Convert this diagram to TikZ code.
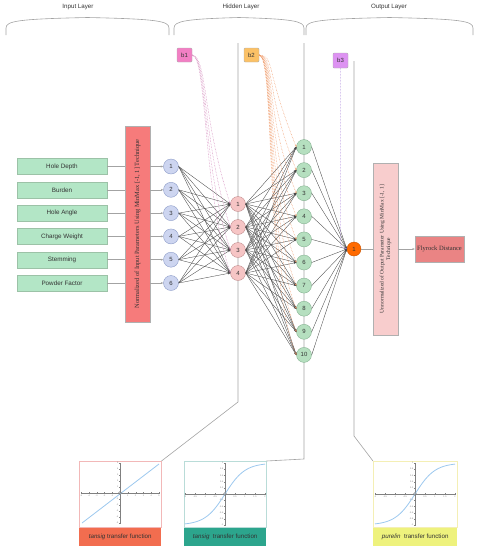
\documentclass[tikz,border=0pt]{standalone}
\usepackage{fontspec}
\setmainfont{Liberation Sans}
\newfontfamily\tms{Liberation Serif}
\usetikzlibrary{arrows.meta}
\definecolor{inboxfill}{HTML}{B3E6C6}
\definecolor{inboxdraw}{HTML}{9CC2A7}
\definecolor{normfill}{HTML}{F67B7B}
\definecolor{boxdraw}{HTML}{B0B0B0}
\definecolor{infill}{HTML}{CDD5F0}
\definecolor{indraw}{HTML}{8C9CC8}
\definecolor{hidfill}{HTML}{F6C5C5}
\definecolor{hiddraw}{HTML}{C08C8C}
\definecolor{outfill}{HTML}{B5DFBF}
\definecolor{outdraw}{HTML}{86B392}
\definecolor{orng}{HTML}{FF6A00}
\definecolor{orngdraw}{HTML}{C85200}
\definecolor{unfill}{HTML}{F8CDCD}
\definecolor{flyfill}{HTML}{EA8484}
\definecolor{bonefill}{HTML}{F27FC4}
\definecolor{btwofill}{HTML}{FBC166}
\definecolor{bthreefill}{HTML}{DD92F2}
\definecolor{bonedot}{HTML}{CF7FB5}
\definecolor{btwodot}{HTML}{EE9460}
\definecolor{bthreedot}{HTML}{A57FDA}
\definecolor{gline}{HTML}{A3A3A3}
\definecolor{edgec}{HTML}{484848}
\definecolor{capone}{HTML}{F26D4F}
\definecolor{captwo}{HTML}{2CA58D}
\definecolor{capthree}{HTML}{EEF27D}
\definecolor{pone}{HTML}{F2B8B8}
\definecolor{ptwo}{HTML}{B9DCD8}
\definecolor{pthree}{HTML}{F4EFB5}
\definecolor{curvec}{HTML}{9CC8EE}
\definecolor{txt}{HTML}{333333}
\tikzset{
  inbox/.style={draw=inboxdraw, fill=inboxfill, minimum width=90pt, minimum height=16pt, inner sep=0pt, font=\fontsize{6.3}{7}\selectfont, text=txt},
  neuron/.style={circle, minimum size=15pt, inner sep=0pt, font=\fontsize{6}{7}\selectfont, text=txt},
  nin/.style={neuron, draw=indraw, fill=infill},
  nhid/.style={neuron, draw=hiddraw, fill=hidfill},
  nout/.style={neuron, draw=outdraw, fill=outfill},
  nfin/.style={neuron, draw=orngdraw, fill=orng, minimum size=14pt},
  biasbox/.style={draw=boxdraw, rounded corners=1pt, minimum width=15pt, minimum height=14pt, inner sep=0pt, font=\fontsize{6}{7}\selectfont, text=txt},
  conn/.style={draw=edgec, line width=0.35pt, -{Stealth[length=2.5pt,width=2pt]}},
  gconn/.style={draw=gline, line width=0.5pt},
  biasline/.style={densely dotted, line width=0.5pt, -{Stealth[length=2pt,width=1.6pt]}},
  vline/.style={draw=gline, line width=0.6pt},
  brace/.style={draw=gline, line width=0.6pt},
  layerlab/.style={font=\fontsize{6.2}{7}\selectfont, text=txt},
  plotbox/.style={minimum width=82pt, minimum height=66pt, inner sep=0pt, anchor=north west, line width=0.5pt},
  capbox/.style={minimum width=82pt, minimum height=18pt, inner sep=0pt, anchor=north west, font=\fontsize{6.2}{7}\selectfont, text=txt},
  axisl/.style={draw=gray, line width=0.4pt},
  tickl/.style={font=\fontsize{2.2}{2.5}\selectfont, text=gray, inner sep=0pt},
  curvel/.style={draw=curvec, line width=0.8pt}
}
\begin{document}
\begin{tikzpicture}[x=1pt,y=-1pt]
\useasboundingbox (0,0) rectangle (478,550);
% layer labels and braces
\node[layerlab] (lin) at (78,7) {Input Layer};
\node[layerlab] (lhid) at (241,7) {Hidden Layer};
\node[layerlab] (lout) at (389,7) {Output Layer};
\foreach \a/\b in {6/169, 174/304, 306/473}{
  \draw[brace] (\a,35) -- (\a,28) .. controls (\a,21) and ({\a+12},19) .. ({(\a+\b)/2},17.5)
     .. controls ({\b-12},19) and (\b,21) .. (\b,28) -- (\b,35);
}
% plots
\node[plotbox, draw=pone] (p1) at (79,461) {};
\node[capbox, fill=capone] (c1) at (p1.south west) {\textit{tansig} transfer function};
\node[plotbox, draw=ptwo] (p2) at (184,461) {};
\node[capbox, fill=captwo] (c2) at (p2.south west) {\textit{tansig}\ \ transfer function};
\node[plotbox, draw=pthree, minimum width=84pt] (p3) at (373,461) {};
\node[capbox, fill=capthree, minimum width=84pt] (c3) at (p3.south west) {\textit{purelin}\ \ transfer function};
% plot 1: linear
\begin{scope}[shift={(120,493)}]
  \draw[axisl] (-39,0) -- (39,0);
  \draw[axisl] (0,-30) -- (0,31);
  \foreach \t in {-5,-4,-3,-2,-1,1,2,3,4,5}{
    \draw[axisl, line width=0.2pt] ({\t*7.8},-0.8) -- ({\t*7.8},0.8);
    \node[tickl] at ({\t*7.8},3) {\t};
    \draw[axisl, line width=0.2pt] (-0.8,{\t*(-6)}) -- (0.8,{\t*(-6)});
    \node[tickl, anchor=east] at (-1.5,{\t*(-6)}) {\t};
  }
  \draw[curvel] (-38,30) -- (39,-29);
  \draw[axisl] (0,0) circle (1.5);
\end{scope}
% plot 2 and 3: sigmoid
\foreach \ox in {225,415}{
\begin{scope}[shift={(\ox,494)}]
  \draw[axisl] (-40,0) -- (41,0);
  \draw[axisl] (0,-31) -- (0,32);
  \foreach \t in {-2,-1.5,-1,-0.5,0.5,1,1.5,2}{
    \draw[axisl, line width=0.2pt] ({\t*20},-0.8) -- ({\t*20},0.8);
    \node[tickl] at ({\t*20},3) {\t};
  }
  \foreach \t in {-1,-0.8,-0.6,-0.4,-0.2,0.2,0.4,0.6,0.8,1}{
    \draw[axisl, line width=0.2pt] (-0.8,{\t*(-31)}) -- (0.8,{\t*(-31)});
    \node[tickl, anchor=east] at (-1.5,{\t*(-31)}) {\t};
  }
  \draw[curvel] plot[domain=-2:2, samples=50, smooth] ({\x*20},{-31*tanh(\x)});
  \draw[axisl] (0,0) circle (1.5);
\end{scope}
}
% vertical lines
\coordinate (v1t) at (238,43); \coordinate (v1b) at (238,402);
\coordinate (v2t) at (304,43); \coordinate (v2b) at (304,459);
\coordinate (v3t) at (354,61); \coordinate (v3b) at (354,436);
\draw[vline] (v1t) -- (v1b) -- (p1.north east);
\draw[vline] (v2t) -- (v2b) -- (p2.north east);
\draw[vline] (v3t) -- (v3b) -- (p3.north west);
% normalization box
\node[draw=boxdraw, fill=normfill, minimum width=25pt, minimum height=196pt, inner sep=0pt] (norm) at (137.5,224) {};
\node[rotate=90, font=\tms\fontsize{6.4}{7.5}\selectfont, text=txt] (normtxt) at (norm.center) {Normalized of Input Parameters Using MinMax [-1, 1] Technique};
% inputs
\foreach \i/\y/\t in {1/166.5/Hole Depth, 2/189.8/Burden, 3/213.1/Hole Angle, 4/236.4/Charge Weight, 5/259.7/Stemming, 6/283/Powder Factor}{
  \node[inbox] (in\i) at (62,\y) {\t};
  \node[nin] (n\i) at (171,\y) {\i};
  \draw[gconn] (in\i.east) -- (in\i.east -| norm.west);
  \draw[gconn, -{Stealth[length=2.5pt,width=2pt]}] (n\i.west -| norm.east) -- (n\i.west);
}
% hidden
\foreach \j/\y in {1/204, 2/227, 3/250, 4/273}{
  \node[nhid] (h\j) at (238,\y) {\j};
}
% output layer
\foreach \k in {1,...,10}{
  \node[nout] (o\k) at (304,{147+23.1*(\k-1)}) {\k};
}
\node[nfin] (fin) at (354,249) {1};
% unnormalization and output
\node[draw=boxdraw, fill=unfill, minimum width=25pt, minimum height=172pt, inner sep=0pt] (unnorm) at (385.5,249) {};
\node[rotate=90, align=center, font=\tms\fontsize{5.5}{6.6}\selectfont, text=txt] (untxt) at (unnorm.center) {Unnormalized of Output Parameter Using MinMax [-1, 1]\\Technique};
\node[draw=boxdraw, fill=flyfill, minimum width=49pt, minimum height=26pt, inner sep=0pt, font=\tms\fontsize{6.5}{7.5}\selectfont, text=txt] (fly) at (439.5,249) {Flyrock Distance};
\draw[gconn] (fin.east) -- (unnorm.west);
\draw[gconn, -{Stealth[length=2.5pt,width=2pt]}] (unnorm.east) -- (fly.west);
% bias nodes
\node[biasbox, fill=bonefill] (b1) at (184.5,55) {b1};
\node[biasbox, fill=btwofill] (b2) at (251.5,55) {b2};
\node[biasbox, fill=bthreefill, minimum height=15pt] (b3) at (340.5,60.5) {b3};
% connections
\foreach \i in {1,...,6}{
  \foreach \j in {1,...,4}{
    \draw[conn] (n\i.east) -- (h\j.west);
  }
}
\foreach \j in {1,...,4}{
  \foreach \k in {1,...,10}{
    \draw[conn] (h\j.east) -- (o\k.west);
  }
}
\foreach \k in {1,...,10}{
  \draw[conn] (o\k.east) -- (fin.west);
}
% bias lines
\foreach \j in {1,...,4}{
  \draw[biasline, draw=bonedot] (b1.east) .. controls +(15,2) and +(-28,-85) .. (h\j.west);
}
\foreach \k in {1,...,10}{
  \draw[biasline, draw=btwodot] (b2.east) .. controls +(16,2) and +(-32,-80) .. (o\k.west);
}
\draw[biasline, draw=bthreedot] (b3.south) -- ++(0,178) -- (fin.west);
\end{tikzpicture}
\end{document}
